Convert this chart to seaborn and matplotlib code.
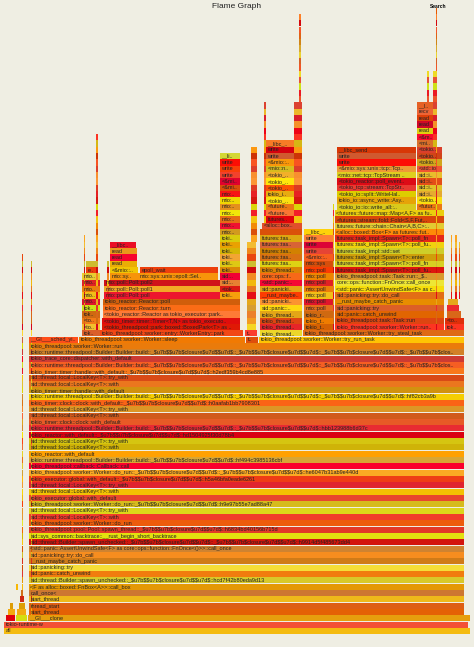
import hashlib
import matplotlib
matplotlib.use("Agg")
import matplotlib.pyplot as plt
import seaborn as sns

# ── Flame graph frames: (depth, start_sample, width_samples, label) ──
TRUNK_LABELS = [
    "start_thread", "thread_start", "start_thread", "call_once<",
    "<F as alloc::boxed::FnBox<A>>::call_box",
    "std::thread::Builder::spawn_unchecked::_$u7b$$u7b$closure$u7d$$u7d$::hcd7f42b80eda9d13",
    "std::panic::catch_unwind", "std::panicking::try", "__rust_maybe_catch_panic",
    "std::panicking::try::do_call",
    "<std::panic::AssertUnwindSafe<F> as core::ops::function::FnOnce<()>>::call_once",
    "std::thread::Builder::spawn_unchecked::_$u7b$$u7b$closure$u7d$$u7d$::_$u7b$$u7b$closure$u7d$$u7d$::h9914d5f485673dd4",
    "std::sys_common::backtrace::__rust_begin_short_backtrace",
    "tokio_threadpool::pool::Pool::spawn_thread::_$u7b$$u7b$closure$u7d$$u7d$::h6834bd40156b715d",
    "tokio_threadpool::worker::Worker::do_run",
    "std::thread::local::LocalKey<T>::with",
    "std::thread::local::LocalKey<T>::try_with",
    "tokio_threadpool::worker::Worker::do_run::_$u7b$$u7b$closure$u7d$$u7d$::h9e97b55e7ad88a47",
    "tokio_executor::global::with_default",
    "std::thread::local::LocalKey<T>::with",
    "std::thread::local::LocalKey<T>::try_with",
    "tokio_executor::global::with_default::_$u7b$$u7b$closure$u7d$$u7d$::h5a46bfa0eade6261",
    "tokio_threadpool::worker::Worker::do_run::_$u7b$$u7b$closure$u7d$$u7d$::_$u7b$$u7b$closure$u7d$$u7d$::he6047b31ab9e440d",
    "tokio_threadpool::callback::Callback::call",
    "tokio::runtime::threadpool::Builder::Builder::build::_$u7b$$u7b$closure$u7d$$u7d$::hf494c3985136cbf",
    "tokio_reactor::with_default",
    "std::thread::local::LocalKey<T>::with",
    "std::thread::local::LocalKey<T>::try_with",
    "tokio_reactor::with_default::_$u7b$$u7b$closure$u7d$$u7d$::hd1504925f30d78b4",
    "tokio::runtime::threadpool::Builder::Builder::build::_$u7b$$u7b$closure$u7d$$u7d$::_$u7b$$u7b$closure$u7d$$u7d$::hbb123988b6d37c",
    "tokio_timer::clock::clock::with_default",
    "std::thread::local::LocalKey<T>::with",
    "std::thread::local::LocalKey<T>::try_with",
    "tokio_timer::clock::clock::with_default::_$u7b$$u7b$closure$u7d$$u7d$::h0aafab1bb7908301",
    "tokio::runtime::threadpool::Builder::Builder::build::_$u7b$$u7b$closure$u7d$$u7d$::_$u7b$$u7b$closure$u7d$$u7d$::_$u7b$$u7b$closure$u7d$$u7d$::hf82cb3a9b",
    "tokio_timer::timer::handle::with_default",
    "std::thread::local::LocalKey<T>::with",
    "std::thread::local::LocalKey<T>::try_with",
    "tokio_timer::timer::handle::with_default::_$u7b$$u7b$closure$u7d$$u7d$::h2edf359b4cd8e885",
    "tokio::runtime::threadpool::Builder::Builder::build::_$u7b$$u7b$closure$u7d$$u7d$::_$u7b$$u7b$closure$u7d$$u7d$::_$u7b$$u7b$closure$u7d$$u7d$::_$u7b$$u7b$closure$u7d$$u7d$::h",
    "tokio_trace_core::dispatcher::with_default",
    "tokio::runtime::threadpool::Builder::Builder::build::_$u7b$$u7b$closure$u7d$$u7d$::_$u7b$$u7b$closure$u7d$$u7d$::_$u7b$$u7b$closure$u7d$$u7d$::_$u7b$$u7b$closure$u7d$$u7d$::_$u7b$",
    "tokio_threadpool::worker::Worker::run",
]

BASE_FRAMES = [
    (0, 0, 466, "all"),
    (1, 0, 464, "tokio-runtime-w"),
    (2, 2, 9, "l.."), (2, 12, 11, "bo.."), (2, 24, 443, "__GI___clone"),
    (3, 4, 7, ""), (3, 13, 9, ""), (4, 6, 3, ""), (4, 15, 6, ""),
    (5, 16, 4, ""), (6, 17, 2, ""), (7, 12, 2, ""), (7, 18, 1, ""),
    (46, 25, 49, "__GI___sched_yield"), (46, 75, 166, "tokio_threadpool::worker::Worker::sleep"),
    (46, 242, 12, "to.."), (46, 255, 205, "tokio_threadpool::worker::Worker::try_run_task"),
    (47, 78, 18, "tokio_threadpool::worker::Worker::sleep_light"),
    (47, 96, 143, "tokio_threadpool::worker::entry::WorkerEntry::park"),
    (47, 241, 12, "to.."), (47, 256, 42, "tokio_threadpool::task::Task::run"),
    (47, 299, 161, "tokio_threadpool::worker::Worker::try_steal_task"),
    # reactor park stack
    (48, 98, 138, "<tokio_threadpool::park::boxed::BoxedPark<T> as tokio_executor::park::Park>::park"),
    (49, 98, 138, "<tokio_timer::timer::Timer<T,N> as tokio_executor::park::Park>::park"),
    (50, 99, 137, "<tokio_reactor::Reactor as tokio_executor::park::Park>::park"),
    (51, 99, 137, "tokio_reactor::Reactor::turn"),
    (52, 99, 137, "tokio_reactor::Reactor::poll"),
    (53, 100, 116, "mio::poll::Poll::poll"),
    (54, 100, 116, "mio::poll::Poll::poll1"),
    (55, 100, 116, "mio::poll::Poll::poll2"),
    (56, 106, 28, "mio::sys::unix::epoll::Selector::select"),
    (56, 134, 80, "mio::sys::unix::epoll::Selector::select"),
    (57, 106, 28, "<&mio::evented::Evented>::poll"), (57, 136, 78, "epoll_wait"),
    (58, 106, 27, "read"), (59, 106, 27, "read"), (60, 106, 27, "read"),
    (61, 106, 26, "__libc_read"),
    (48, 441, 19, "tokio_threadpool::worker::Worker::run_task"),
    (49, 441, 19, "<tokio_threadpool::task::Task>::run"),
    (50, 443, 14, ""), (51, 443, 12, ""), (52, 444, 10, ""),
]

# towers: (start, width, first_depth, labels)
TOWERS = [
    (78, 18, 48, ["<tokio_timer::clock", "<tokio_reactor", "tokio_reactor", "tokio_reactor",
                  "mio::poll", "mio::poll", "mio::poll", "mio::poll", "mio::sys"]),
    (82, 12, 57, ["epoll_wait", ""]),
    (92, 2, 48, [""] * 31),
    (80, 1, 48, [""] * 15),
    (103, 2, 53, [""] * 6),
    (216, 20, 53, ["tokio_reactor", "<tokio_reactor", "std::io", "std::io", "tokio_reactor",
                   "tokio_io", "tokio_reactor", "tokio_reactor", "tokio_io", "tokio_io",
                   "mio::poll", "mio::poll", "mio::poll", "mio::poll", "mio::poll",
                   "mio::poll", "mio::sys", "<&mio::sys", "<&mio::net", "write", "write",
                   "write", "__libc_write"]),
    (243, 9, 48, ["t", "t", "<t", "<t", "", "", "", "", "", "", "", "", "", ""]),
    (247, 6, 62, [""] * 15),
    (256, 42, 48, ["tokio_threadpool::task::Task::run", "tokio_threadpool::task::Task::run",
                   "tokio_threadpool::task::Task::run", "std::panic::catch_unwind",
                   "std::panicking::try", "__rust_maybe_catch_panic",
                   "std::panicking::try::do_call", "<std::panic::AssertUnwindSafe<F>",
                   "core::ops::function::FnOnce", "tokio_threadpool::task::Task::run",
                   "futures::task_impl::Spawn", "futures::task_impl::Spawn",
                   "futures::task_impl::Spawn", "futures::task_impl::Spawn",
                   "futures::task_impl::Spawn", ""]),
    (258, 40, 64, ["<alloc::boxed::Box<F>"]),
    (262, 28, 65, ["futures::future::chain", "<futures::future", "<futures::stream",
                   "<tokio_io::io", "tokio_io::async_write", "<tokio_io::split",
                   "<tokio_tcp::stream", "<tokio_reactor::poll_evented",
                   "<mio::net::tcp", "<&mio::sys", "write", "write", "__libc_send"]),
    (290, 8, 65, [""] * 19),
    (260, 2, 65, [""] * 19),
    (295, 2, 84, [""] * 14),
    (300, 29, 48, ["tokio_threadpool::worker", "tokio_threadpool", "tokio_reactor",
                   "mio::poll", "mio::poll", "mio::poll", "mio::poll", "mio::poll",
                   "mio::poll", "mio::poll", "mio::sys", "<&mio::sys", "write", "write",
                   "write", "__libc_send"]),
    (329, 1, 48, [""] * 20),
    (331, 109, 48, ["tokio_threadpool::worker::Worker::run_task",
                    "tokio_threadpool::task::Task::run", "std::panic::catch_unwind",
                    "std::panicking::try", "__rust_maybe_catch_panic",
                    "std::panicking::try::do_call",
                    "<std::panic::AssertUnwindSafe<F> as core::ops::function::FnOnce<()>>",
                    "core::ops::function::FnOnce::call_once",
                    "tokio_threadpool::task::Task::run::_$u7b$$u7b$closure$u7d$$u7d$",
                    "futures::task_impl::Spawn<T>::poll_future_notify",
                    "futures::task_impl::Spawn<T>::poll_fn",
                    "futures::task_impl::Spawn<T>::enter",
                    "futures::task_impl::std::set",
                    "futures::task_impl::Spawn<T>::poll_future",
                    "futures::task_impl::Spawn<T>::poll_fn",
                    "<alloc::boxed::Box<F> as futures::future::Future>::poll",
                    "futures::future::chain::Chain<A,B,C>::poll",
                    "<futures::stream::fold::Fold<S,F,Fut,T> as futures::future::Future>::poll",
                    "<futures::future::map::Map<A,F> as futures::future::Future>::poll"]),
    (333, 79, 67, ["<tokio_io::io::write_all::WriteAll<A,T> as futures::future::Future>::poll",
                   "tokio_io::async_write::AsyncWrite::poll_write",
                   "<tokio_io::split::WriteHalf<T> as std::io::Write>::write",
                   "<tokio_tcp::stream::TcpStream as std::io::Write>::write",
                   "<tokio_reactor::poll_evented::PollEvented2<E> as std::io::Write>::write",
                   "<mio::net::tcp::TcpStream as std::io::Write>::write",
                   "<&mio::sys::unix::tcp::TcpStream as std::io::Write>::write",
                   "write", "write", "__libc_send"]),
    (413, 25, 67, ["<futures::stream", "<tokio_io::io", "std::io::Read", "std::io::Read",
                   "std::io::Read", "std::io::Read", "<std::io", "<tokio_io::io",
                   "<tokio_tcp", "<tokio_reactor"]),
    (413, 19, 77, ["<mio::net", "<&mio::sys", "read", "read", "read", "recv", "__libc_recv"]),
    (429, 3, 77, [""] * 12),
    (432, 1, 48, [""] * 51),
    (423, 2, 84, [""] * 5),
    (447, 1, 53, [""] * 10),
    (451, 2, 53, [""] * 10),
    (455, 1, 53, [""] * 9),
    (18, 1, 8, [""] * 52),
    (27, 1, 3, [""] * 56),
]

ROW_PX = 6.33


def frame_color(label, depth):
    h = hashlib.md5(f"{label}|{depth}".encode()).digest()
    v1, v2, v3 = h[0] / 255, h[1] / 255, h[2] / 255
    return ((205 + 50 * v3) / 255, (230 * v1) / 255, (55 * v2) / 255)


def build_frames():
    frames = list(BASE_FRAMES)
    for i, lab in enumerate(TRUNK_LABELS):
        frames.append((3 + i, 25, 435, lab))
    for start, width, d0, labels in TOWERS:
        for i, lab in enumerate(labels):
            frames.append((d0 + i, start, width, lab))
    return frames


def main():
    sns.set_theme(style="white")
    plt.rcParams["font.family"] = ["Liberation Sans", "DejaVu Sans"]

    fig = plt.figure(figsize=(4.74, 6.47), dpi=100)
    fig.patch.set_facecolor("#efeee3")
    ax = fig.add_axes([4 / 474, 13 / 647, 466 / 474, 633 / 647])
    ax.set_facecolor("#efeee3")
    ax.set_xlim(0, 466)
    ax.set_ylim(0, 633 / ROW_PX)
    ax.axis("off")

    for depth, start, width, label in build_frames():
        ax.barh(depth, width, left=start, height=0.97, align="edge",
                color=frame_color(label, depth), linewidth=0)
        n = int((width - 3) / 2.7)
        if label and n >= 3:
            txt = label if len(label) <= n else label[:max(n - 2, 1)] + ".."
            ax.text(start + 1.5, depth + 0.48, txt.replace("$", r"\$"), fontsize=4,
                    va="center", ha="left", color="#222222", clip_on=True)

    fig.text(0.5, 1 - 7 / 647, "Flame Graph", ha="center", va="center",
             fontsize=6, color="#222222")
    fig.text(438 / 474, 1 - 7 / 647, "Search", ha="center", va="center",
             fontsize=3.5, fontweight="bold", color="black")

    fig.savefig("out.png", dpi=100, facecolor=fig.get_facecolor())


if __name__ == "__main__":
    main()
